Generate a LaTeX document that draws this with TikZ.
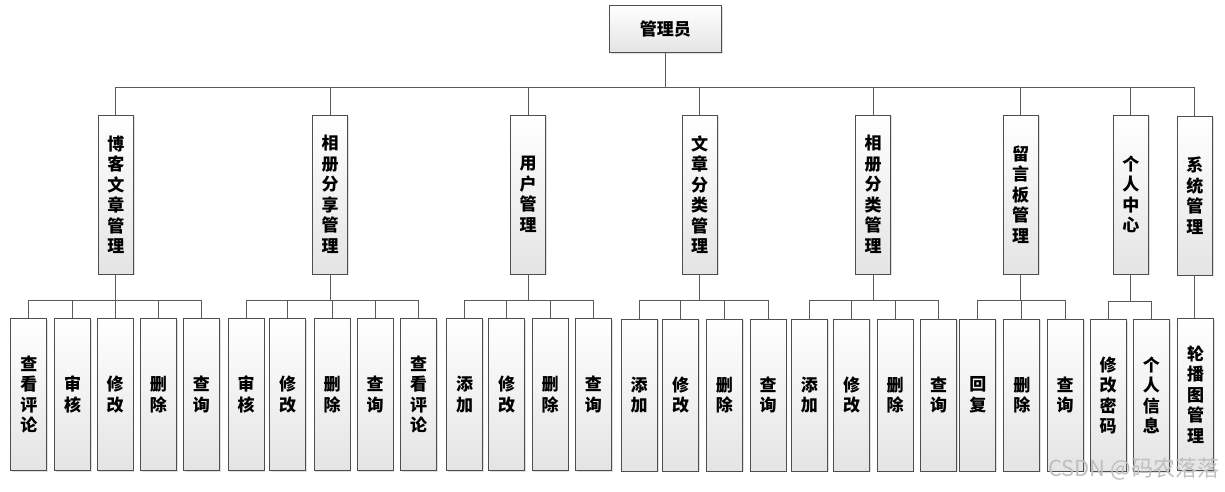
\documentclass[tikz,border=0pt]{standalone}
\usepackage{fontspec}
\setmainfont{Noto Sans CJK SC}
\usetikzlibrary{shadows}
\definecolor{boxline}{HTML}{4E4E4E}
\definecolor{boxfill}{HTML}{E4E4E4}
\definecolor{linegray}{HTML}{5A5A5A}
\begin{document}
\begin{tikzpicture}[x=1pt,y=-1pt,
	box/.style={
		draw=boxline,
		line width=0.9pt,
		top color=white,
		bottom color=boxfill,
		drop shadow={shadow xshift=1.3pt,shadow yshift=-1.3pt,opacity=.25},
		font=\fontsize{17}{20.5}\selectfont\bfseries,
		align=center,
		inner sep=0pt,
	},
	rootbox/.style={box, minimum width=112pt, minimum height=47pt},
	mid/.style={box, minimum width=35pt, minimum height=159pt},
	leaf/.style={box, minimum width=36pt, minimum height=152pt},
	link/.style={draw=linegray, line width=0.9pt},
	]
	\useasboundingbox (0,0) rectangle (1225,492);
	% root
	\node[rootbox] (root) at (665.3,28.8) {管理员};
	% second level
	\node[mid] (blog)   at (115.8,194.5)  {博\\客\\文\\章\\管\\理};
	\node[mid] (share)  at (330.2,194.5)  {相\\册\\分\\享\\管\\理};
	\node[mid] (user)   at (528.2,194.5)  {用\\户\\管\\理};
	\node[mid] (artcat) at (699.7,194.5)  {文\\章\\分\\类\\管\\理};
	\node[mid] (albcat) at (873.0,194.5)  {相\\册\\分\\类\\管\\理};
	\node[mid] (board)  at (1020.7,194.5) {留\\言\\板\\管\\理};
	\node[mid] (self)   at (1130.8,194.5) {个\\人\\中\\心};
	\node[mid] (sys)    at (1194.9,195.5) {系\\统\\管\\理};
	\foreach \m in {blog,share,user,artcat,albcat,board,self,sys}{
		\draw[link] (root.south) -- ++(0,34.7) -| (\m.north);
	}
	% third level
	\foreach \px/\txt [count=\i] in {28.8/{查\\看\\评\\论},72.7/{审\\核},115/{修\\改},158.3/{删\\除},201.3/{查\\询}}{
		\node[leaf] (blog-\i) at (\px,394.5) {\txt};
		\draw[link] (blog.south) -- ++(0,26) -| (blog-\i.north);
	}
	\foreach \px/\txt [count=\i] in {246/{审\\核},287.7/{修\\改},332/{删\\除},375/{查\\询},418.7/{查\\看\\评\\论}}{
		\node[leaf] (share-\i) at (\px,394.5) {\txt};
		\draw[link] (share.south) -- ++(0,26) -| (share-\i.north);
	}
	\foreach \px/\txt [count=\i] in {464.7/{添\\加},506.5/{修\\改},550/{删\\除},593.3/{查\\询}}{
		\node[leaf] (user-\i) at (\px,394.5) {\txt};
		\draw[link] (user.south) -- ++(0,26) -| (user-\i.north);
	}
	\foreach \px/\txt [count=\i] in {639.2/{添\\加},680.7/{修\\改},724.3/{删\\除},768/{查\\询}}{
		\node[leaf] (artcat-\i) at (\px,395) {\txt};
		\draw[link] (artcat.south) -- ++(0,26) -| (artcat-\i.north);
	}
	\foreach \px/\txt [count=\i] in {809.3/{添\\加},851.7/{修\\改},895/{删\\除},938.5/{查\\询}}{
		\node[leaf] (albcat-\i) at (\px,395) {\txt};
		\draw[link] (albcat.south) -- ++(0,26) -| (albcat-\i.north);
	}
	\foreach \px/\txt [count=\i] in {977.8/{回\\复},1021.8/{删\\除},1065.2/{查\\询}}{
		\node[leaf] (board-\i) at (\px,395) {\txt};
		\draw[link] (board.south) -- ++(0,26) -| (board-\i.north);
	}
	\foreach \px/\txt [count=\i] in {1108.2/{修\\改\\密\\码},1151.3/{个\\人\\信\\息}}{
		\node[leaf] (self-\i) at (\px,395.5) {\txt};
		\draw[link] (self.south) -- ++(0,27) -| (self-\i.north);
	}
	\node[leaf] (sys-1) at (1195.5,394.5) {轮\\播\\图\\管\\理};
	\draw[link] (sys.south) -- (sys.south |- sys-1.north);
	% watermark
	\node[anchor=east, text=gray!50, font=\fontsize{22}{22}\selectfont] (mark) at (1223,469) {CSDN @码农落落};
\end{tikzpicture}
\end{document}
